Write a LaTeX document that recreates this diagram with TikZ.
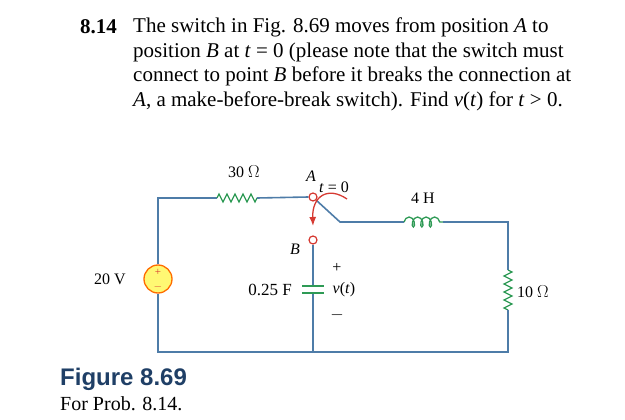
\documentclass[tikz,border=0pt]{standalone}
\usepackage{fontspec}
\setmainfont{Liberation Serif}
\newfontfamily\capfont{Liberation Sans}
\usetikzlibrary{decorations.pathmorphing,arrows.meta}
\definecolor{wire}{HTML}{4E7CA8}
\definecolor{comp}{HTML}{2E9A55}
\definecolor{sw}{HTML}{D63A32}
\definecolor{capblue}{HTML}{1F3F66}
\tikzset{
  wr/.style={draw=wire,line width=1.6pt},
  res/.style={draw=comp,line width=1.3pt,decorate,decoration={zigzag,segment length=8pt,amplitude=4pt}},
  ind/.style={draw=comp,line width=1.3pt,decorate,decoration={coil,aspect=0.6,segment length=8.5pt,amplitude=5pt}},
  term/.style={circle,draw=sw,fill=white,line width=1.2pt,inner sep=0pt,minimum size=8pt},
  lbl/.style={inner sep=0pt,font=\fontsize{16}{18}\selectfont},
  txt/.style={anchor=west,inner sep=0pt,font=\fontsize{21}{26}\selectfont}
}
\begin{document}
\begin{tikzpicture}[x=1pt,y=-1pt]
\useasboundingbox (0,0) rectangle (625,420);
% problem text
\node[txt,font=\fontsize{21}{26}\selectfont\bfseries] (num) at (80,27) {8.14};
\node[txt] (l1) at (133,27) {The switch in Fig. 8.69 moves from position \textit{A} to};
\node[txt] (l2) at (133,52) {position \textit{B} at \textit{t} = 0 (please note that the switch must};
\node[txt] (l3) at (133,76) {connect to point \textit{B} before it breaks the connection at};
\node[txt] (l4) at (133,101) {\textit{A}, a make-before-break switch). Find \textit{v}(\textit{t}) for \textit{t} > 0.};
% coordinates
\coordinate (tl) at (158,198);
\coordinate (bl) at (158,352);
\coordinate (r1a) at (217,198);
\coordinate (r1b) at (257,198);
\node[term] (A) at (313,197) {};
\node[term] (B) at (313,240) {};
\coordinate (blade) at (340,222);
\coordinate (la) at (404,222);
\coordinate (lb) at (443,222);
\coordinate (tr) at (508,222);
\coordinate (r2a) at (508,270);
\coordinate (r2b) at (508,310);
\coordinate (br) at (508,352);
\coordinate (bm) at (313,352);
\coordinate (c1) at (313,286);
\coordinate (c2) at (313,293);
\node[circle,draw=orange!85!red,fill=yellow!55,line width=1.3pt,minimum size=28pt,inner sep=0pt] (src) at (158,279) {};
% wires
\draw[wr] (src.north) -- (tl) -- (r1a);
\draw[res] (r1a) -- (r1b);
\draw[wr] (r1b) -- (A.west);
\draw[wr] (A.south east) -- (blade) -- (la);
\draw[ind] (la) -- (lb);
\draw[wr] (lb) -- (tr) -- (r2a);
\draw[res] (r2a) -- (r2b);
\draw[wr] (r2b) -- (br) -- (bl) -- (src.south);
\draw[wr] (B.south) -- (c1);
\draw[wr] (c2) -- (bm);
\draw[draw=comp,line width=1.3pt] (302,286) -- (324,286) (302,293) -- (324,293);
% switch arrow
\draw[sw,line width=1.3pt,-{Latex[length=9pt,width=7pt]}] (347,199) .. controls (328,186) and (312,196) .. (313,226);
% source signs
\node[lbl,text=sw,font=\fontsize{11}{11}\selectfont] (sp) at (158,272) {+};
\node[lbl,text=sw,font=\fontsize{11}{11}\selectfont] (sm) at (158,287) {$-$};
% labels
\node[lbl] (l30) at (244,172) {30 $\Omega$};
\node[lbl] (lA) at (311,176) {\textit{A}};
\node[lbl] (lt) at (334,187) {\textit{t} = 0};
\node[lbl] (l4H) at (423,198) {4 H};
\node[lbl] (lB) at (295,249) {\textit{B}};
\node[lbl] (lp) at (337,268) {+};
\node[lbl] (lv) at (344,290) {\textit{v}(\textit{t})};
\node[lbl] (lm) at (337,315) {$-$};
\node[lbl,font=\fontsize{17}{18}\selectfont] (lC) at (270,290) {0.25 F};
\node[lbl] (l20) at (110,279) {20 V};
\node[lbl] (l10) at (533,292) {10 $\Omega$};
% caption
\node[anchor=west,inner sep=0pt,text=capblue,font=\capfont\bfseries\fontsize{24}{28}\selectfont] (fig) at (60,379) {Figure 8.69};
\node[anchor=west,inner sep=0pt,font=\fontsize{20}{22}\selectfont] (prob) at (60,404) {For Prob. 8.14.};
\end{tikzpicture}
\end{document}
